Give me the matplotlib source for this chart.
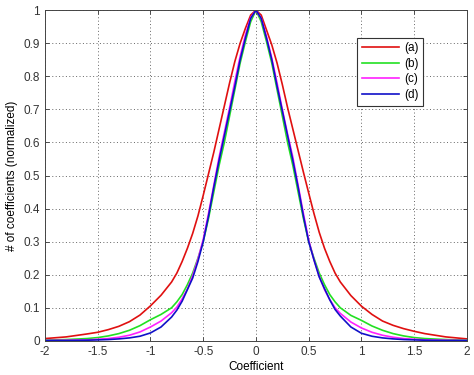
import matplotlib
matplotlib.use('Agg')
import matplotlib.pyplot as plt

plt.rcParams['font.family'] = ['Liberation Sans', 'DejaVu Sans']

# Coefficient values (x) and normalized counts for each curve
coef = [-2.0, -1.8, -1.6, -1.5, -1.4, -1.3, -1.2, -1.1, -1.0, -0.9, -0.8, -0.75, -0.7,
        -0.65, -0.6, -0.55, -0.5, -0.45, -0.4, -0.35, -0.3, -0.25, -0.2, -0.15, -0.1,
        -0.05, 0.0, 0.05, 0.1, 0.15, 0.2, 0.25, 0.3, 0.35, 0.4, 0.45, 0.5, 0.55, 0.6,
        0.65, 0.7, 0.75, 0.8, 0.9, 1.0, 1.1, 1.2, 1.3, 1.4, 1.5, 1.6, 1.8, 2.0]

curve_a = [0.007, 0.012, 0.021, 0.026, 0.034, 0.044, 0.058, 0.078, 0.106, 0.138, 0.178, 0.205,
           0.24, 0.28, 0.325, 0.378, 0.44, 0.505, 0.57, 0.64, 0.71, 0.78, 0.845, 0.9, 0.945,
           0.985, 1.0, 0.985, 0.94, 0.895, 0.84, 0.775, 0.705, 0.64, 0.575, 0.51, 0.447, 0.385,
           0.328, 0.28, 0.24, 0.205, 0.178, 0.137, 0.105, 0.08, 0.06, 0.047, 0.037, 0.029,
           0.022, 0.012, 0.006]

curve_b = [0.002, 0.004, 0.007, 0.01, 0.015, 0.022, 0.032, 0.046, 0.064, 0.08, 0.1, 0.118,
           0.14, 0.17, 0.205, 0.25, 0.3, 0.37, 0.45, 0.53, 0.6, 0.68, 0.76, 0.84, 0.905,
           0.965, 1.0, 0.965, 0.905, 0.84, 0.76, 0.68, 0.6, 0.53, 0.45, 0.37, 0.3, 0.25,
           0.205, 0.17, 0.14, 0.118, 0.1, 0.077, 0.062, 0.045, 0.032, 0.022, 0.015, 0.01,
           0.007, 0.004, 0.002]

curve_c = [0.001, 0.002, 0.003, 0.005, 0.007, 0.011, 0.017, 0.027, 0.042, 0.06, 0.085, 0.102,
           0.127, 0.157, 0.197, 0.247, 0.307, 0.385, 0.47, 0.555, 0.63, 0.705, 0.785, 0.86,
           0.925, 0.977, 1.0, 0.975, 0.92, 0.855, 0.78, 0.70, 0.625, 0.555, 0.47, 0.385, 0.305,
           0.245, 0.195, 0.155, 0.125, 0.10, 0.083, 0.057, 0.039, 0.026, 0.017, 0.011, 0.007,
           0.005, 0.003, 0.002, 0.001]

curve_d = [0.001, 0.001, 0.002, 0.003, 0.004, 0.006, 0.009, 0.014, 0.024, 0.042, 0.072, 0.093,
           0.12, 0.155, 0.19, 0.24, 0.3, 0.377, 0.464, 0.545, 0.62, 0.695, 0.77, 0.85,
           0.915, 0.975, 1.0, 0.975, 0.915, 0.85, 0.77, 0.695, 0.62, 0.545, 0.464, 0.377,
           0.3, 0.245, 0.193, 0.158, 0.124, 0.095, 0.075, 0.042, 0.023, 0.014, 0.009, 0.006,
           0.004, 0.003, 0.002, 0.001, 0.001]

labels = ['(a)', '(b)', '(c)', '(d)']
colors = ['#e01010', '#22e022', '#ff20ff', '#1010c8']

fig = plt.figure(figsize=(4.74, 3.75), dpi=100)
ax = fig.add_axes([0.095, 0.091, 0.89, 0.882])

for ys, lab, col in zip([curve_a, curve_b, curve_c, curve_d], labels, colors):
    ax.plot(coef, ys, color=col, linewidth=1.2, label=lab)

ax.set_xlim(-2, 2)
ax.set_ylim(0, 1)
ax.set_xticks([-2, -1.5, -1, -0.5, 0, 0.5, 1, 1.5, 2])
ax.set_xticklabels(['-2', '-1.5', '-1', '-0.5', '0', '0.5', '1', '1.5', '2'])
ax.set_yticks([i / 10 for i in range(11)])
ax.set_yticklabels(['0', '0.1', '0.2', '0.3', '0.4', '0.5', '0.6', '0.7', '0.8', '0.9', '1'])
ax.tick_params(direction='in', top=True, right=True, labelsize=8.5, length=3,
               width=0.6, colors='#333333')
ax.grid(True, linestyle=(0, (1, 2.5)), color='#666666', linewidth=0.7)
for s in ax.spines.values():
    s.set_linewidth(0.7)
    s.set_color('#444444')

ax.set_xlabel('Coefficient', fontsize=8.5, labelpad=2)
ax.set_ylabel('# of coefficients (normalized)', fontsize=8.5, labelpad=4)

leg = ax.legend(loc='upper left', bbox_to_anchor=(0.725, 0.935), fontsize=8.5,
                fancybox=False, framealpha=1, edgecolor='#333333', handlelength=3.2,
                labelspacing=0.3, borderpad=0.4, handletextpad=0.4)
leg.get_frame().set_linewidth(0.8)

fig.savefig('out.png', dpi=100)
